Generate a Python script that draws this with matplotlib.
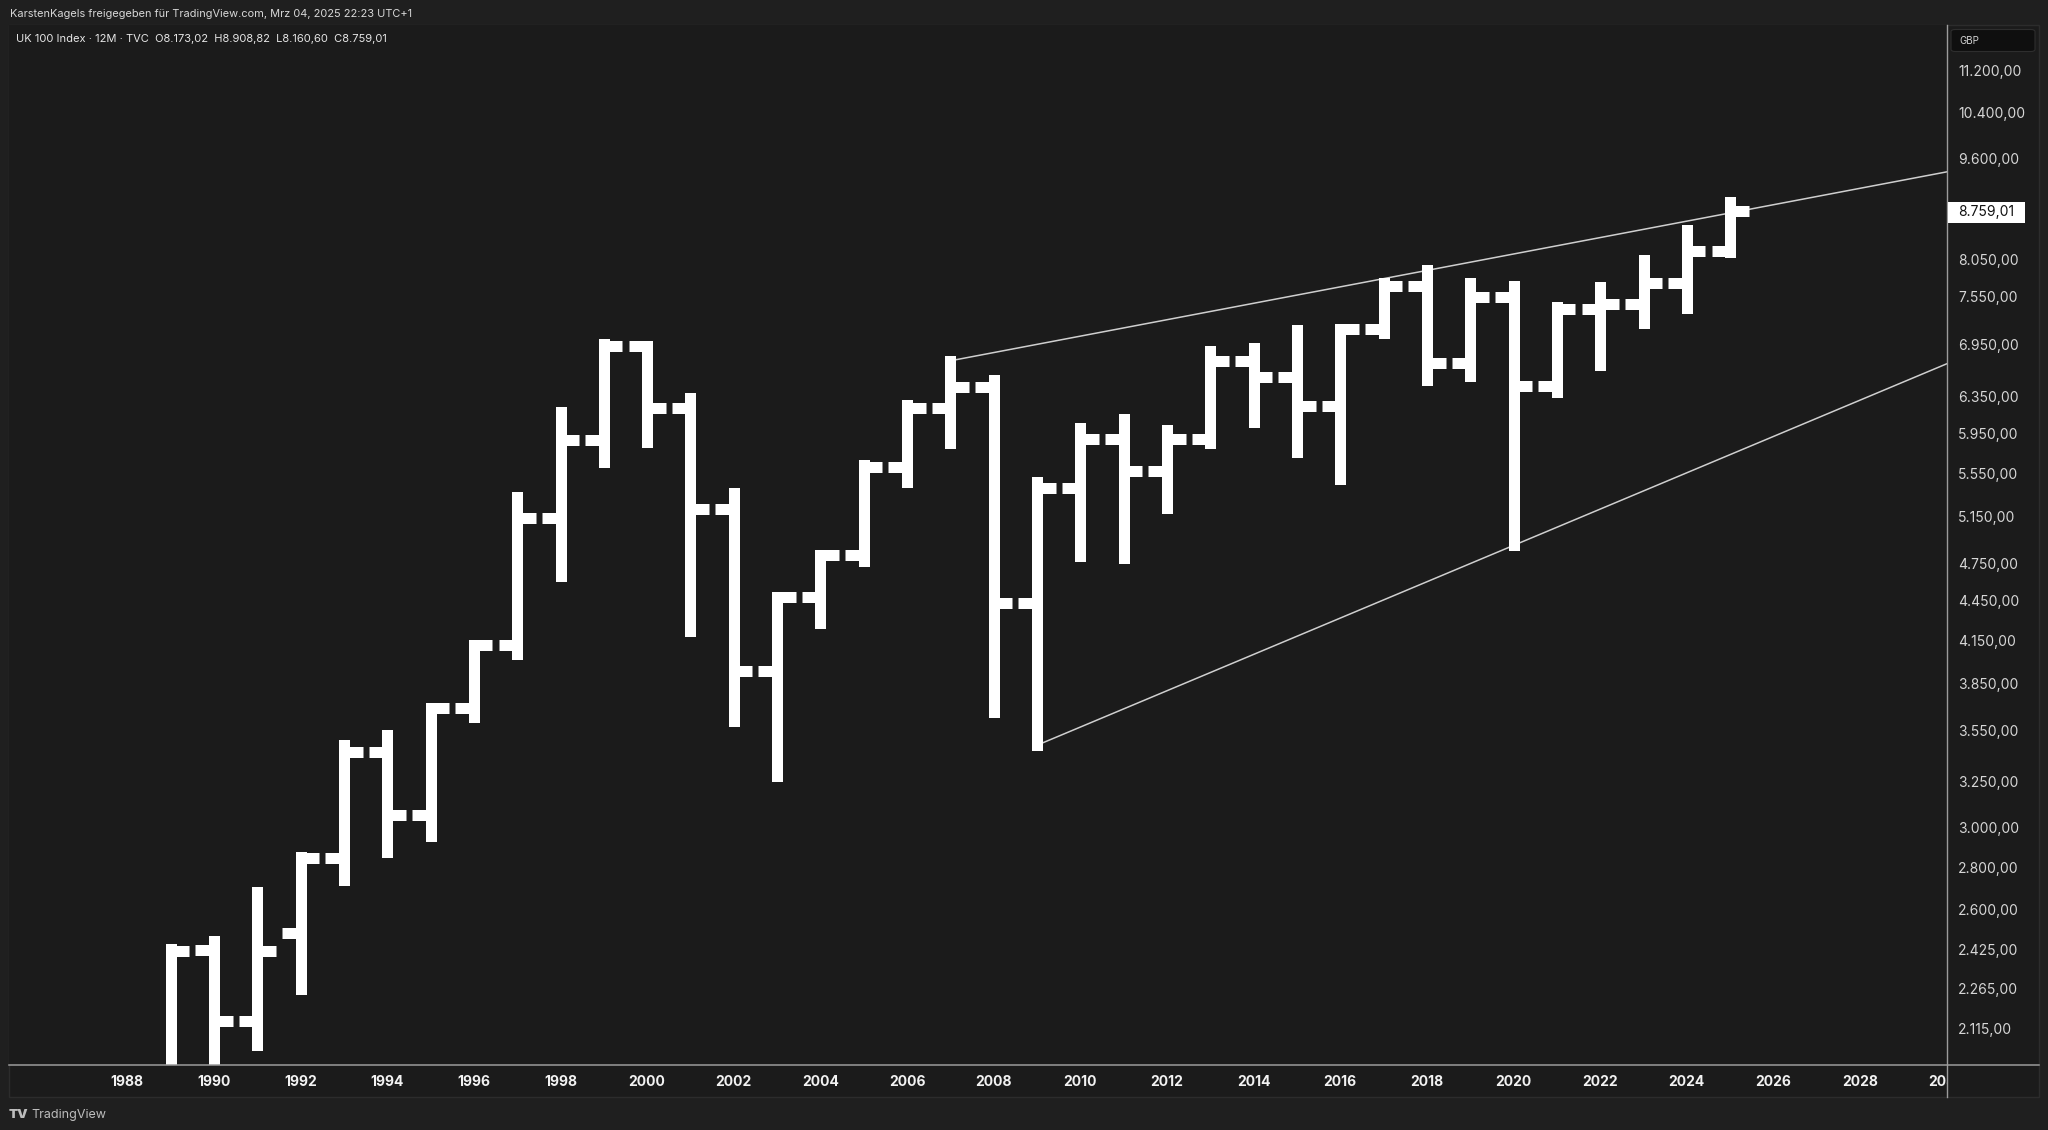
import matplotlib
matplotlib.use("Agg")
import matplotlib.pyplot as plt
from matplotlib.ticker import FixedLocator, NullLocator
from matplotlib.patches import Rectangle, FancyBboxPatch
from matplotlib.lines import Line2D
from matplotlib.transforms import Bbox

# ---------------- data (yearly OHLC, UK 100 Index, TVC) ----------------
years = list(range(1989, 2026))
opens = [1793.0, 2422.7, 2143.5, 2495.0, 2846.5, 3418.4, 3065.5, 3689.3, 4118.5, 5135.5,
         5882.6, 6930.2, 6222.5, 5217.4, 3940.4, 4476.9, 4814.3, 5618.8, 6220.8, 6456.9,
         4434.2, 5412.9, 5899.9, 5572.3, 5897.8, 6749.1, 6566.1, 6242.3, 7142.8, 7687.8,
         6728.1, 7542.4, 6460.5, 7384.5, 7451.7, 7733.2, 8173.02]
highs = [2430.0, 2463.7, 2679.6, 2847.8, 3463.3, 3520.3, 3689.3, 4118.5, 5330.8, 6179.0,
         6950.6, 6930.2, 6334.5, 5362.3, 4476.9, 4820.1, 5638.3, 6248.8, 6754.1, 6534.7,
         5473.0, 6006.0, 6105.8, 5989.1, 6875.6, 6904.9, 7122.7, 7142.8, 7730.0, 7903.5,
         7727.5, 7690.0, 7420.7, 7672.4, 8047.1, 8474.4, 8908.82]
lows = [1782.0, 1990.2, 2054.8, 2265.0, 2737.6, 2876.6, 2954.2, 3632.3, 4056.6, 4648.7,
        5664.8, 5860.0, 4219.6, 3609.9, 3277.5, 4283.0, 4765.4, 5467.4, 5858.8, 3665.2,
        3460.7, 4805.8, 4791.0, 5229.8, 5852.0, 6072.7, 5768.2, 5499.5, 7093.6, 6536.5,
        6580.0, 4898.8, 6397.9, 6707.6, 7206.8, 7404.1, 8160.60]
closes = [2420.0, 2143.5, 2420.0, 2846.5, 3418.4, 3065.5, 3689.3, 4118.5, 5135.5, 5882.6,
          6930.2, 6222.5, 5217.4, 3940.4, 4476.9, 4814.3, 5618.8, 6220.8, 6456.9, 4434.2,
          5412.9, 5899.9, 5572.3, 5897.8, 6749.1, 6566.1, 6242.3, 7142.8, 7687.8, 6728.1,
          7542.4, 6460.5, 7384.5, 7451.7, 7733.2, 8173.0, 8759.01]

# trend lines: anchor points (year, price)
upper_years = [2007, 2018]
upper_prices = [6754.1, 7903.5]
lower_years = [2009, 2020]
lower_prices = [3460.7, 4898.8]

price_ticks = [11200, 10400, 9600, 8050, 7550, 6950, 6350, 5950, 5550, 5150, 4750,
               4450, 4150, 3850, 3550, 3250, 3000, 2800, 2600, 2425, 2265, 2115]
year_ticks = list(range(1988, 2031, 2))
last_price = 8759.01

header = "KarstenKagels freigegeben für TradingView.com, Mrz 04, 2025 22:23 UTC+1"
legend = "UK 100 Index · 12M · TVC  O8.173,02  H8.908,82  L8.160,60  C8.759,01"


def de_fmt(v):
    s = f"{v:,.2f}"
    return s.replace(",", "X").replace(".", ",").replace("X", ".")


# ---------------- figure / layout ----------------
W, H = 2048, 1130
DPI = 100
fig = plt.figure(figsize=(W / DPI, H / DPI), dpi=DPI, facecolor="#1f1f1f")
FONT = ["Inter", "DejaVu Sans"]


def fx(px):
    return px / W


def fy(py):
    return 1 - py / H


BG = "#1b1b1b"
# outer panel
fig.add_artist(Rectangle((fx(9), fy(1097)), fx(2039) - fx(9), fy(25) - fy(1097),
                         transform=fig.transFigure, facecolor=BG, edgecolor="#2c2c2c",
                         linewidth=1.0, zorder=0))

PL, PR, PT, PB = 9, 1947, 25, 1065
ax = fig.add_axes([fx(PL), fy(PB), fx(PR) - fx(PL), fy(PT) - fy(PB)])
ax.set_facecolor(BG)
for s in ax.spines.values():
    s.set_visible(False)

ax.set_yscale("log")
ax.set_xlim(1985.269, 2030.006)
ax.set_ylim(1984.3, 12112)

# ---------------- OHLC bars ----------------
px_w = 11.0 * 72 / DPI  # 11 px line width in points
tick_len = 0.43
ax.vlines(years, lows, highs, colors="white", linewidth=px_w, capstyle="projecting", zorder=3)
ax.hlines(opens, [y - tick_len for y in years], years, colors="white", linewidth=px_w,
          zorder=3)
ax.hlines(closes, years, [y + tick_len for y in years], colors="white", linewidth=px_w,
          zorder=3)
for coll in ax.collections[-2:]:
    coll.set_capstyle("butt")

# ---------------- trend lines ----------------
x_end = 2031.0


def extend(xs, ps, x_to):
    r = (ps[1] / ps[0]) ** ((x_to - xs[0]) / (xs[1] - xs[0]))
    return [xs[0], x_to], [ps[0], ps[0] * r]


for xs, ps in ((upper_years, upper_prices), (lower_years, lower_prices)):
    lx, ly = extend(xs, ps, x_end)
    ax.plot(lx, ly, color="#cfcfcf", linewidth=1.1, zorder=2, solid_capstyle="butt")

# ---------------- axes ticks ----------------
ax.yaxis.tick_right()
ax.yaxis.set_major_locator(FixedLocator(price_ticks))
ax.yaxis.set_minor_locator(NullLocator())
ax.set_yticklabels([de_fmt(v) for v in price_ticks])
ax.tick_params(axis="y", which="both", length=0, pad=7.9, labelsize=10,
               labelcolor="#d6d6d6")

ax.xaxis.set_major_locator(FixedLocator(year_ticks))
ax.xaxis.set_minor_locator(NullLocator())
ax.set_xticklabels([str(y) for y in year_ticks])
ax.tick_params(axis="x", which="both", length=0, pad=7.0, labelsize=10,
               labelcolor="#f2f2f2")
for lab in ax.get_xticklabels():
    lab.set_fontweight("bold")
    lab.set_family(FONT)
for lab in ax.get_yticklabels():
    lab.set_family(FONT)

clip = Bbox.from_extents(PL, 0, PR, H)  # display pixels (origin bottom-left)
for t in ax.xaxis.get_major_ticks():
    t.label1.set_clip_box(clip)
    t.label1.set_clip_on(True)

# axis separator lines
fig.add_artist(Line2D([fx(PL), fx(2039)], [fy(PB), fy(PB)], transform=fig.transFigure,
                      color="#9c9c9c", linewidth=1.1, zorder=5))
fig.add_artist(Line2D([fx(PR), fx(PR)], [fy(25), fy(1097)], transform=fig.transFigure,
                      color="#9c9c9c", linewidth=1.0, zorder=5))

# ---------------- last price label ----------------
fig.add_artist(Rectangle((fx(1948), fy(222.7)), fx(2025) - fx(1948), fy(201.7) - fy(222.7),
                         transform=fig.transFigure, facecolor="white", edgecolor="none",
                         zorder=6))
fig.text(fx(1958), fy(212), de_fmt(last_price), color="#111111", fontsize=10,
         family=FONT, va="center", ha="left", zorder=7)

# GBP box
fig.add_artist(FancyBboxPatch((fx(1951), fy(51.5)), fx(2035) - fx(1951), fy(29.5) - fy(51.5),
                              boxstyle="round,pad=0,rounding_size=0.002",
                              transform=fig.transFigure, facecolor="#0f0f0f",
                              edgecolor="#2e2e2e", linewidth=0.8, zorder=6))
fig.text(fx(1959), fy(40.5), "GBP", color="#d0d0d0", fontsize=7, family=FONT,
         va="center", ha="left", zorder=7)

# ---------------- header texts ----------------
fig.text(fx(10), fy(14), header, color="#d8d8d8", fontsize=7.9, family=FONT,
         va="center", ha="left")
fig.text(fx(16.5), fy(39.5), legend, color="#e6e6e6", fontsize=8.0, family=FONT,
         va="center", ha="left")

# TradingView footer
fig.text(fx(9), fy(1115), "TV", color="#bdbdbd", fontsize=9.5, fontweight="black",
         family=FONT, va="center", ha="left")
fig.text(fx(31), fy(1115), "TradingView", color="#bdbdbd", fontsize=9, family=FONT,
         va="center", ha="left")

fig.savefig("out.png", dpi=DPI, facecolor=fig.get_facecolor())
